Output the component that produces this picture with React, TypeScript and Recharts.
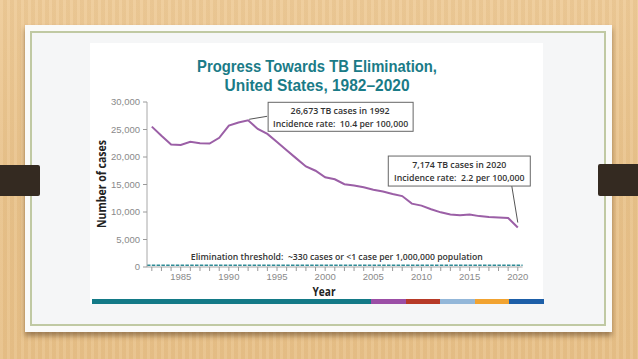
import React from "react";
import { LineChart, Line, XAxis, YAxis, ReferenceLine, ReferenceDot } from "recharts";

const years = [
  1982, 1983, 1984, 1985, 1986, 1987, 1988, 1989, 1990, 1991, 1992, 1993, 1994,
  1995, 1996, 1997, 1998, 1999, 2000, 2001, 2002, 2003, 2004, 2005, 2006, 2007,
  2008, 2009, 2010, 2011, 2012, 2013, 2014, 2015, 2016, 2017, 2018, 2019, 2020,
];
const cases = [
  25520, 23846, 22255, 22201, 22768, 22517, 22436, 23495, 25701, 26283, 26673,
  25102, 24206, 22726, 21210, 19751, 18287, 17500, 16309, 15945, 15055, 14836,
  14500, 14063, 13728, 13282, 12895, 11520, 11161, 10510, 9940, 9565, 9398,
  9537, 9252, 9088, 9021, 8904, 7174,
];
const yTicks = [0, 5000, 10000, 15000, 20000, 25000, 30000];
const xLabelYears = [1985, 1990, 1995, 2000, 2005, 2010, 2015, 2020];
const annotatedYears = [1992, 2020];
const incidenceRates = ["10.4", "2.2"];
const thresholdCases = 330;
const titleLines = ["Progress Towards TB Elimination,", "United States, 1982\u20132020"];
const thresholdText =
  "Elimination threshold:  ~330 cases or <1 case per 1,000,000 population";
const barColors = ["#137a87", "#9b4ea6", "#b73a28", "#93b7d9", "#f1a331", "#1d5fa8"];
const barWidths = [279, 35, 34, 35, 34.5, 34.5];

const data = years.map((y, i) => ({ year: y, cases: cases[i] }));

const FONT = "'Open Sans', 'Liberation Sans', sans-serif";
const TITLE_FONT = "'Liberation Sans', Arial, sans-serif";
const TICK_FONT = "'Liberation Sans', Arial, sans-serif";
const PRE = { whiteSpace: "pre" as const };

const XTick = (props: any) => {
  const { x, y, payload } = props;
  if (!xLabelYears.includes(payload.value)) return <g />;
  return (
    <text x={x} y={y} dy="0.71em" textAnchor="middle" fontSize={9.5} fill="#8a8a8a" fontFamily={TICK_FONT}>
      {payload.value}
    </text>
  );
};

const YTick = (props: any) => {
  const { x, y, payload } = props;
  return (
    <text x={x} y={y} dy="0.35em" textAnchor="end" fontSize={9.5} fill="#8a8a8a" fontFamily={TICK_FONT}>
      {Number(payload.value).toLocaleString("en-US")}
    </text>
  );
};

const ThresholdLabel = (props: any) => {
  const vb = props.viewBox || { x: 147, y: 265, width: 375 };
  return (
    <text
      x={vb.x + vb.width / 2 + 2}
      y={vb.y - 5}
      textAnchor="middle"
      fontSize={9.5}
      fontWeight={600}
      fill="#333"
      fontFamily={FONT}
      textLength={292}
      lengthAdjust="spacingAndGlyphs"
      style={PRE}
    >
      {thresholdText}
    </text>
  );
};

const Annot1 = (props: any) => {
  const { cx, cy } = props;
  const bx = cx + 20;
  const by = cy - 18;
  const i = 0;
  const val = cases[years.indexOf(annotatedYears[i])];
  return (
    <g>
      <line x1={cx + 1} y1={cy - 1} x2={bx - 1} y2={cy - 4} stroke="#555" strokeWidth={1} />
      <rect x={bx} y={by} width={145} height={29} fill="#fff" stroke="#666" strokeWidth={1} />
      <text x={bx + 72} y={by + 11.5} textAnchor="middle" fontSize={9.5} fontWeight={600} fill="#333" fontFamily={FONT} textLength={99} lengthAdjust="spacingAndGlyphs" style={PRE}>
        {`${val.toLocaleString("en-US")} TB cases in ${annotatedYears[i]}`}
      </text>
      <text x={bx + 72.5} y={by + 24.5} textAnchor="middle" fontSize={9.5} fontWeight={600} fill="#333" fontFamily={FONT} textLength={135} lengthAdjust="spacingAndGlyphs" style={PRE}>
        {`Incidence rate:  ${incidenceRates[i]} per 100,000`}
      </text>
    </g>
  );
};

const Annot2 = (props: any) => {
  const { cx, cy } = props;
  const bx = cx - 129.5;
  const by = cy - 71.5;
  const i = 1;
  const val = cases[years.indexOf(annotatedYears[i])];
  return (
    <g>
      <line x1={cx} y1={cy - 5} x2={cx - 6} y2={by + 30} stroke="#555" strokeWidth={1} />
      <rect x={bx} y={by} width={142} height={30} fill="#fff" stroke="#666" strokeWidth={1} />
      <text x={bx + 71} y={by + 12} textAnchor="middle" fontSize={9.5} fontWeight={600} fill="#333" fontFamily={FONT} textLength={94} lengthAdjust="spacingAndGlyphs" style={PRE}>
        {`${val.toLocaleString("en-US")} TB cases in ${annotatedYears[i]}`}
      </text>
      <text x={bx + 71} y={by + 25} textAnchor="middle" fontSize={9.5} fontWeight={600} fill="#333" fontFamily={FONT} textLength={130.5} lengthAdjust="spacingAndGlyphs" style={PRE}>
        {`Incidence rate:  ${incidenceRates[i]} per 100,000`}
      </text>
    </g>
  );
};

export default function App() {
  let acc = 91.5;
  const bars = barColors.map((c, i) => {
    const left = acc;
    acc += barWidths[i];
    return (
      <div key={i} style={{ position: "absolute", left, top: 299, width: barWidths[i], height: 5, background: c }} />
    );
  });
  return (
    <div
      style={{
        position: "absolute",
        left: 0,
        top: 0,
        width: 638,
        height: 359,
        overflow: "hidden",
        background:
          "repeating-linear-gradient(90deg, rgba(255,255,255,0.06) 0px, rgba(255,255,255,0.06) 3px, rgba(120,70,10,0.04) 3px, rgba(120,70,10,0.04) 7px), linear-gradient(180deg, #eecb98 0%, #e9c38c 50%, #e8c189 100%)",
      }}
    >
      {/* slide */}
      <div style={{ position: "absolute", left: 25, top: 25, width: 587, height: 307, background: "#fafaf8", boxShadow: "0 4px 5px rgba(70,45,20,0.45)" }} />
      <div style={{ position: "absolute", left: 30, top: 31, width: 576, height: 295, border: "2px solid #c0c9a3", boxSizing: "border-box", background: "#f5f6f7" }} />
      {/* chart panel */}
      <div style={{ position: "absolute", left: 90, top: 43, width: 453, height: 261, background: "#ffffff" }} />
      {bars}
      {/* tabs */}
      <div style={{ position: "absolute", left: 0, top: 165, width: 40, height: 31, background: "#342a21", borderRadius: "0 2px 2px 0" }} />
      <div style={{ position: "absolute", left: 598, top: 164, width: 40, height: 32, background: "#342a21", borderRadius: "2px 0 0 2px" }} />

      <div style={{ position: "absolute", left: 0, top: 0 }}>
        <LineChart width={638} height={359} data={data} margin={{ top: 102, right: 115.4, bottom: 62, left: 87 }}>
          <XAxis
            dataKey="year"
            type="number"
            domain={[1981.5, 2020.5]}
            ticks={years}
            interval={0}
            tickSize={4}
            tickMargin={2}
            height={30}
            axisLine={{ stroke: "#a8a8a8" }}
            tickLine={{ stroke: "#9a9a9a" }}
            tick={<XTick />}
          />
          <YAxis
            type="number"
            domain={[0, 30000]}
            ticks={yTicks}
            interval={0}
            tickSize={4}
            tickMargin={3}
            width={60}
            axisLine={{ stroke: "#a8a8a8" }}
            tickLine={{ stroke: "#9a9a9a" }}
            tick={<YTick />}
          />
          <ReferenceLine
            y={thresholdCases}
            stroke="#2e8b96"
            strokeWidth={1.5}
            strokeDasharray="3.5 1.3"
            label={<ThresholdLabel />}
          />
          <Line type="linear" dataKey="cases" stroke="#9b5fa6" strokeWidth={2} dot={false} isAnimationActive={false} />
          <ReferenceDot x={annotatedYears[0]} y={cases[years.indexOf(annotatedYears[0])]} r={0} shape={(p: any) => <Annot1 {...p} />} />
          <ReferenceDot x={annotatedYears[1]} y={cases[years.indexOf(annotatedYears[1])]} r={0} shape={(p: any) => <Annot2 {...p} />} />
        </LineChart>
      </div>

      <svg width={638} height={359} style={{ position: "absolute", left: 0, top: 0, pointerEvents: "none" }}>
        <text x={317} y={71.5} textAnchor="middle" fontSize={16.5} fontWeight={700} fill="#1a7b87" fontFamily={TITLE_FONT} textLength={240} lengthAdjust="spacingAndGlyphs">
          {titleLines[0]}
        </text>
        <text x={317} y={91} textAnchor="middle" fontSize={16.5} fontWeight={700} fill="#1a7b87" fontFamily={TITLE_FONT} textLength={185} lengthAdjust="spacingAndGlyphs">
          {titleLines[1]}
        </text>
        <text x={324} y={295.5} textAnchor="middle" fontSize={12.5} fontWeight={700} fill="#222" fontFamily={FONT} textLength={23} lengthAdjust="spacingAndGlyphs">
          Year
        </text>
        <text
          x={0}
          y={0}
          transform="translate(106,184) rotate(-90)"
          textAnchor="middle"
          fontSize={12.5}
          fontWeight={700}
          fill="#222"
          fontFamily={FONT}
          textLength={88}
          lengthAdjust="spacingAndGlyphs"
        >
          Number of cases
        </text>
      </svg>
    </div>
  );
}
